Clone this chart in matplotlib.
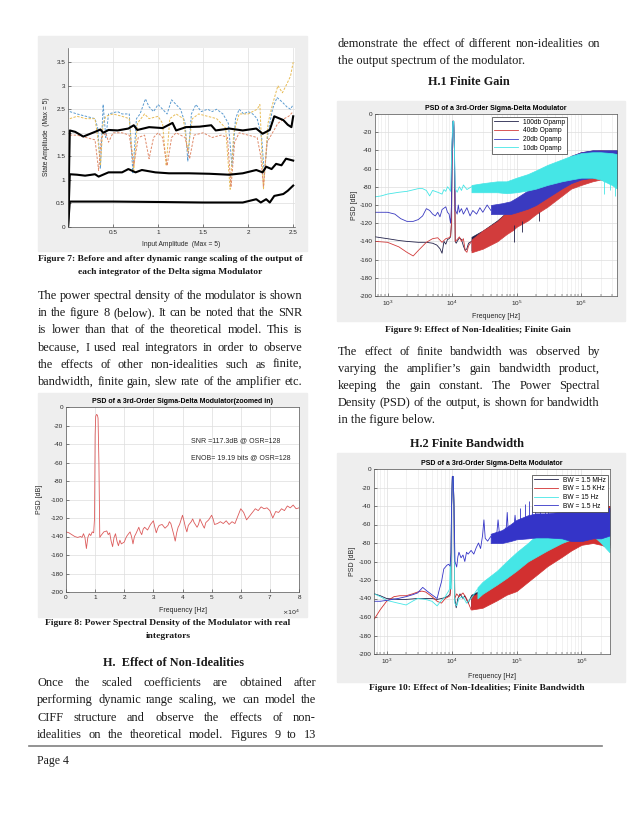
import numpy as np
import matplotlib
matplotlib.use("Agg")
import matplotlib.pyplot as plt
from matplotlib.patches import Rectangle
from matplotlib.lines import Line2D
from matplotlib.ticker import FuncFormatter

# === Page text ===
top_right_lines = ["demonstrate the effect of different non-idealities on",
                   "the output spectrum of the modulator."]
fig7_caption = ["Figure 7: Before and after dynamic range scaling of the output of",
                "each integrator of the Delta sigma Modulator"]
left_par1 = ["The power spectral density of the modulator is shown",
             "in the figure 8 (below). It can be noted that the SNR",
             "is lower than that of the theoretical model. This is",
             "because, I used real integrators in order to observe",
             "the effects of other non-idealities such as finite,",
             "bandwidth, finite gain, slew rate of the amplifier etc."]
fig8_caption = ["Figure 8: Power Spectral Density of the Modulator with real",
                "integrators"]
left_heading = "H.  Effect of Non-Idealities"
left_par2 = ["Once the scaled coefficients are obtained after",
             "performing dynamic range scaling, we can model the",
             "CIFF structure and observe the effects of non-",
             "idealities on the theoretical model. Figures 9 to 13"]
h1_heading = "H.1 Finite Gain"
fig9_caption = "Figure 9: Effect of Non-Idealities; Finite Gain"
right_par = ["The effect of finite bandwidth was observed by",
             "varying the amplifier\u2019s gain bandwidth product,",
             "keeping the gain constant. The Power Spectral",
             "Density (PSD) of the output, is shown for bandwidth",
             "in the figure below."]
h2_heading = "H.2 Finite Bandwidth"
fig10_caption = "Figure 10: Effect of Non-Idealities; Finite Bandwidth"
footer = "Page 4"

# === Figure 7 data: state amplitude vs input amplitude ===
amp_black_top = [(0, 0), (0.02, 2.05), (0.08, 2.02), (0.17, 1.92), (0.3, 2.02), (0.36, 2.07), (0.39, 2.0),
                 (0.45, 2.06), (0.55, 2.05), (0.67, 2.09), (0.73, 2.16), (0.77, 2.06), (0.9, 2.12),
                 (1.05, 2.1), (1.16, 2.21), (1.2, 2.05), (1.31, 2.12), (1.46, 2.13), (1.59, 2.16),
                 (1.64, 2.05), (1.79, 2.09), (1.94, 2.05), (2.09, 2.09), (2.16, 1.98), (2.24, 2.06),
                 (2.29, 2.35), (2.39, 2.27), (2.44, 2.17), (2.48, 2.12), (2.5, 2.35)]
amp_black_mid = [(0, 0), (0.02, 1.12), (0.1, 1.11), (0.19, 1.09), (0.3, 1.12), (0.34, 1.07), (0.45, 1.16),
                 (0.6, 1.16), (0.67, 1.23), (0.75, 1.16), (0.82, 1.21), (0.97, 1.16), (1.12, 1.14),
                 (1.34, 1.14), (1.57, 1.13), (1.79, 1.11), (1.94, 1.14), (2.09, 1.21), (2.16, 1.16),
                 (2.2, 1.28), (2.26, 1.23), (2.31, 1.34), (2.37, 1.31), (2.42, 1.45), (2.5, 1.41)]
amp_black_low = [(0, 0), (0.02, 0.54), (0.5, 0.54), (1.05, 0.53), (1.5, 0.52), (1.94, 0.52), (2.09, 0.59),
                 (2.14, 0.52), (2.2, 0.59), (2.24, 0.52), (2.29, 0.66), (2.39, 0.70), (2.44, 0.77),
                 (2.5, 0.88)]
amp_blue_dash = [(0.02, 2.45), (0.1, 2.4), (0.2, 2.35), (0.3, 2.3), (0.33, 2.1), (0.36, 1.25), (0.39, 2.6),
                 (0.42, 1.9), (0.45, 2.4), (0.55, 2.45), (0.6, 2.4), (0.68, 2.4), (0.72, 1.15), (0.76, 2.3),
                 (0.8, 2.4), (0.86, 2.72), (0.9, 2.55), (0.95, 2.45), (1.0, 2.6), (1.05, 2.5), (1.1, 2.4),
                 (1.15, 2.7), (1.2, 2.6), (1.25, 2.5), (1.3, 2.2), (1.33, 1.4), (1.37, 2.4), (1.42, 2.6),
                 (1.48, 2.45), (1.55, 2.5), (1.6, 2.45), (1.65, 2.5), (1.72, 2.4), (1.78, 2.2), (1.82, 1.3),
                 (1.86, 2.3), (1.9, 2.5), (1.95, 2.4), (2.0, 2.45), (2.05, 2.4), (2.1, 2.3), (2.15, 1.9),
                 (2.18, 1.1), (2.22, 2.0), (2.27, 2.5), (2.32, 2.75), (2.38, 2.65), (2.43, 2.55),
                 (2.47, 2.5), (2.5, 2.6)]
amp_yellow_dash = [(0.02, 2.3), (0.1, 2.35), (0.2, 2.3), (0.3, 2.3), (0.33, 1.9), (0.36, 1.3), (0.39, 2.2),
                   (0.42, 2.35), (0.5, 2.4), (0.6, 2.35), (0.68, 2.3), (0.73, 1.2), (0.77, 2.2), (0.85, 2.4),
                   (0.9, 2.3), (1.0, 2.35), (1.05, 2.2), (1.09, 1.3), (1.13, 2.3), (1.2, 2.4), (1.28, 2.3),
                   (1.33, 1.6), (1.38, 2.3), (1.45, 2.4), (1.55, 2.35), (1.65, 2.3), (1.75, 2.1), (1.8, 0.8),
                   (1.84, 2.0), (1.9, 2.4), (2.0, 2.4), (2.1, 2.5), (2.13, 2.6), (2.17, 0.8), (2.22, 2.2),
                   (2.27, 2.6), (2.33, 3.0), (2.38, 2.85), (2.42, 3.0), (2.47, 3.2), (2.5, 3.5)]
amp_red_dash = [(0.02, 1.95), (0.1, 1.95), (0.2, 1.9), (0.3, 1.85), (0.34, 1.2), (0.37, 1.9), (0.42, 2.0),
                (0.45, 1.8), (0.5, 2.0), (0.6, 2.0), (0.68, 1.95), (0.73, 1.3), (0.78, 1.9), (0.85, 1.95),
                (0.9, 1.45), (0.95, 1.9), (1.0, 2.0), (1.05, 1.9), (1.1, 1.3), (1.15, 1.9), (1.2, 2.0),
                (1.3, 1.9), (1.35, 1.45), (1.4, 1.95), (1.5, 2.0), (1.6, 1.9), (1.7, 1.95), (1.77, 1.9),
                (1.81, 0.85), (1.85, 1.8), (1.9, 2.0), (2.0, 1.95), (2.1, 1.9), (2.14, 1.5), (2.17, 0.85),
                (2.21, 1.8), (2.27, 2.0), (2.33, 2.2), (2.4, 2.3), (2.45, 2.35), (2.5, 2.45)]

# === Figure 8 data: zoomed PSD (Hz, dB) ===
fig8_psd = [(0, -135), (1000, -136), (2000, -138), (3000, -140), (4000, -141), (5000, -140), (5500, -141),
            (6000, -137), (6500, -141), (7000, -153), (7500, -141), (8000, -137), (8500, -139), (9000, -135),
            (9500, -136), (9800, -120), (10000, -30), (10200, -10), (10500, -8), (10800, -9), (11000, -12),
            (11300, -60), (11600, -141), (12000, -139), (12500, -137), (13000, -135), (14000, -134),
            (14500, -138), (15000, -136), (15500, -145), (16000, -151), (16500, -141), (17000, -137),
            (17500, -145), (18000, -150), (18500, -144), (19000, -148), (20000, -146), (20500, -142),
            (21000, -139), (22000, -135), (22500, -140), (23000, -148), (23500, -140), (24000, -137),
            (25000, -130), (25500, -135), (26000, -138), (26500, -132), (27000, -130), (28000, -133),
            (29000, -127), (30000, -123), (30500, -130), (31000, -136), (31500, -131), (32000, -128),
            (33000, -127), (34000, -131), (35000, -128), (35500, -124), (36000, -126), (36500, -132),
            (37000, -138), (37500, -145), (38000, -136), (38500, -130), (39000, -127), (39500, -122),
            (40000, -117), (40500, -123), (41000, -130), (41500, -135), (42000, -128), (43000, -124),
            (43500, -121), (44000, -125), (45000, -130), (45500, -127), (46000, -121), (47000, -128),
            (47500, -131), (48000, -125), (49000, -122), (50000, -117), (50500, -121), (51000, -127),
            (52000, -126), (53000, -124), (54000, -126), (55000, -123), (56000, -127), (57000, -124),
            (58000, -126), (59000, -118), (60000, -110), (61000, -114), (62000, -122), (63000, -118),
            (64000, -114), (65000, -110), (66000, -112), (67000, -108), (68000, -110), (69000, -109),
            (70000, -112), (71000, -120), (72000, -113), (73000, -114), (74000, -110), (75000, -112),
            (76000, -107), (77000, -109), (78000, -106), (79000, -110), (80000, -109)]
snr_text = "SNR =117.3dB @ OSR=128"
enob_text = "ENOB= 19.19 bits @ OSR=128"

# === Figure 9 data: finite gain (low-frequency trace + noise band envelope) ===
gain_labels = ["100db Opamp", "40db Opamp", "20db Opamp", "10db Opamp"]
gain100_line = [(650, -135), (800, -136), (1000, -137), (1500, -139), (2000, -140), (3000, -141), (4000, -141),
                (5000, -142), (5800, -144), (6500, -148), (7000, -153), (7500, -140), (8000, -143), (8500, -138),
                (9000, -137), (9500, -135), (9800, -120), (10000, -40), (10300, -8), (10600, -8), (10900, -40),
                (11200, -140), (11600, -142), (12000, -140), (13000, -136), (14000, -138), (15000, -145),
                (16000, -150), (17000, -148), (18000, -142), (20000, -140)]
gain40_line = [(650, -140), (1000, -141), (1500, -146), (2000, -152), (2500, -156), (3000, -150), (4000, -141),
               (5000, -137), (6000, -136), (7000, -141), (8000, -137), (9000, -136), (9500, -134), (9800, -120),
               (10000, -40), (10300, -8), (10600, -8), (10900, -40), (11200, -140), (12000, -138), (13000, -135),
               (14000, -140), (15000, -137), (16000, -150), (17000, -152), (18000, -145), (20000, -140)]
gain20_line = [(650, -108), (1000, -108), (1300, -110), (1600, -115), (2000, -118), (2500, -118), (3000, -116),
               (3500, -112), (4000, -104), (4500, -106), (5000, -110), (5500, -112), (6000, -108), (6500, -113),
               (7000, -105), (8000, -102), (8500, -108), (9000, -110), (9500, -120), (9800, -100), (10000, -40),
               (10300, -8), (10600, -8), (10900, -40), (11200, -105), (12000, -110), (12500, -100), (13000, -108),
               (14000, -104), (15000, -110), (17000, -103), (19000, -112), (21000, -106), (24000, -110),
               (27000, -103), (30000, -108), (35000, -100), (40000, -106)]
gain10_line = [(650, -91), (800, -90), (1000, -88), (1500, -86), (2000, -85), (3000, -82), (3500, -82),
               (4000, -84), (4500, -90), (5000, -84), (6000, -86), (7000, -88), (7500, -83), (8000, -85),
               (8500, -80), (9000, -82), (9500, -85), (10000, -30), (10300, -8), (10600, -8), (10900, -40),
               (11200, -82), (12000, -86), (13000, -80), (14000, -84), (15000, -78), (17000, -83), (20000, -80)]
gain_band_f = [2e4, 3e4, 5e4, 7e4, 9e4, 1e5, 1.5e5, 2e5, 3e5, 5e5, 7e5, 1e6, 1.5e6, 2e6, 3e6, 3.6e6]
gain100_hi = [-135, -128, -117, -108, -101, -97, -88, -78, -68, -55, -47, -42, -40, -40, -40, -40]
gain100_lo = [-150, -145, -138, -130, -124, -122, -115, -108, -100, -88, -80, -75, -72, -70, -72, -75]
gain40_hi = [-138, -128, -118, -108, -102, -97, -86, -76, -66, -54, -46, -42, -41, -40, -41, -41]
gain40_lo = [-152, -148, -140, -132, -127, -124, -117, -110, -102, -90, -82, -78, -74, -72, -75, -78]
gain20_band_f = [4e4, 6e4, 8e4, 1e5, 1.5e5, 2e5, 3e5, 5e5, 7e5, 1e6, 1.5e6, 2e6, 3e6, 3.6e6]
gain20_hi = [-100, -98, -96, -92, -84, -75, -65, -54, -46, -42, -40, -40, -40, -40]
gain20_lo = [-110, -110, -110, -108, -104, -100, -92, -82, -76, -72, -70, -70, -72, -76]
gain10_band_f = [2e4, 3e4, 5e4, 7e4, 1e5, 1.5e5, 2e5, 3e5, 5e5, 7e5, 1e6, 1.5e6, 2e6, 3e6, 3.6e6]
gain10_hi = [-78, -76, -74, -74, -70, -66, -62, -56, -50, -46, -43, -42, -42, -43, -44]
gain10_lo = [-86, -86, -86, -87, -86, -84, -82, -78, -74, -72, -70, -70, -72, -78, -82]
gain_spike_f = [9e4, 1.2e5, 2.2e5]
gain_spike_top = [-122, -118, -108]
gain_spike_p = [-141, -130, -118]
gain10_spike_f = [2.3e6, 2.8e6, 3.4e6]
gain10_spike_p = [-88, -84, -90]

# === Figure 10 data: finite bandwidth ===
bw_labels = ["BW = 1.5 MHz", "BW = 1.5 KHz", "BW = 15 Hz", "BW = 1.5 Hz"]
bw1M_line = [(650, -135), (800, -137), (1000, -140), (1500, -141), (2000, -141), (3000, -140), (4000, -140),
             (5000, -140), (6000, -141), (7000, -140), (8000, -139), (9000, -137), (9500, -135), (9800, -120),
             (10000, -40), (10300, -8), (10600, -8), (10900, -40), (11200, -140), (11800, -150), (12500, -140),
             (13500, -135), (15000, -140), (16000, -137), (18000, -145), (20000, -138)]
bw1K_line = [(650, -162), (800, -152), (1000, -143), (1300, -138), (1600, -137), (2000, -137), (2500, -135),
             (3000, -133), (3500, -132), (4000, -133), (5000, -138), (6000, -143), (7000, -145), (8000, -140),
             (9000, -138), (9500, -137), (9800, -120), (10000, -40), (10300, -8), (10600, -8), (10900, -40),
             (11200, -140), (12000, -135), (13000, -138), (15000, -134), (17000, -140), (20000, -152)]
bw15_line = [(650, -135), (800, -138), (1000, -142), (1500, -145), (2000, -147), (2500, -143), (3000, -140),
             (4000, -141), (5000, -143), (6000, -148), (7000, -142), (8000, -138), (9000, -132), (9300, -130),
             (9600, -100), (9800, -130), (10000, -40), (10300, -8), (10600, -8), (10900, -40), (11200, -145),
             (12000, -148), (13000, -140), (15000, -138), (17000, -145), (20000, -140), (25000, -130)]
bw1_line = [(650, -143), (800, -143), (1000, -142), (1500, -140), (2000, -138), (2500, -136), (3000, -134),
            (3600, -128), (4200, -132), (5000, -136), (6000, -140), (6500, -130), (7000, -122), (7600, -108),
            (8500, -104), (9000, -103), (9500, -105), (9800, -90), (10000, -40), (10300, -8), (10600, -8),
            (10900, -40), (11300, -100), (12000, -106), (12500, -95), (13000, -90), (14000, -96), (15000, -93),
            (16000, -100), (17000, -90), (18000, -92), (20000, -88), (22000, -92), (24000, -85), (26000, -80),
            (28000, -86), (30000, -72), (31500, -55), (33000, -75), (36000, -78), (40000, -73), (45000, -76),
            (50000, -68), (52000, -55), (55000, -72), (60000, -75), (65000, -70), (70000, -62), (72000, -47),
            (75000, -70), (80000, -72), (90000, -68), (95000, -50), (100000, -68)]
bw_band_f = [2e4, 3e4, 5e4, 7e4, 1e5, 1.5e5, 2e5, 3e5, 5e5, 7e5, 1e6, 1.5e6, 2e6, 2.7e6]
bw1M_hi = [-136, -130, -120, -112, -102, -90, -80, -70, -58, -50, -46, -42, -40, -40]
bw1M_lo = [-150, -145, -138, -130, -125, -115, -108, -98, -88, -82, -78, -78, -80, -82]
bw1K_hi = [-138, -132, -122, -114, -104, -92, -82, -72, -60, -52, -46, -42, -40, -40]
bw1K_lo = [-152, -150, -142, -136, -132, -122, -115, -105, -95, -88, -82, -80, -82, -85]
bw15_band_f = [2.5e4, 3e4, 5e4, 7e4, 1e5, 1.5e5, 2e5, 3e5, 5e5, 7e5, 1e6, 1.5e6, 2e6, 2.7e6]
bw15_hi = [-128, -122, -110, -100, -90, -80, -72, -64, -56, -52, -50, -48, -46, -46]
bw15_lo = [-140, -135, -125, -118, -110, -100, -95, -88, -80, -76, -72, -72, -80, -90]
bw1_band_f = [4e4, 6e4, 8e4, 1e5, 1.5e5, 2e5, 3e5, 5e5, 7e5, 1e6, 1.5e6, 2e6, 2.7e6]
bw1_hi = [-70, -66, -60, -55, -50, -48, -48, -46, -45, -44, -42, -42, -42]
bw1_lo = [-80, -80, -78, -76, -75, -74, -74, -75, -78, -78, -75, -75, -72]
bw1_spike_f = [1.15e5, 1.35e5, 1.55e5, 1.75e5, 1.95e5, 2.3e5, 2.7e5, 3.1e5]
bw1_spike_p = [-42, -38, -35, -40, -38, -40, -42, -45]

# === Page setup ===
W, H = 638, 826
SERIF = "Liberation Serif"
SANS = "Liberation Sans"
INK = "#1a1a1a"
AX_INK = "#262626"
plt.rcParams["font.family"] = SANS
plt.rcParams["axes.unicode_minus"] = False
fig = plt.figure(figsize=(W / 100, H / 100), dpi=100, facecolor="white")
renderer = fig.canvas.get_renderer()


def fx(x):
    return x / W


def fy(y):
    return 1 - y / H


def px_axes(x0, y0, x1, y1):
    return fig.add_axes([fx(x0), fy(y1), (x1 - x0) / W, (y1 - y0) / H])


def gray_box(x0, y0, x1, y1):
    fig.patches.append(Rectangle((fx(x0), fy(y1)), (x1 - x0) / W, (y1 - y0) / H,
                                 transform=fig.transFigure, color="#eeeeee", zorder=-5))


def justified(lines, x0, x1, y0, dy, size, last_full=False):
    for i, line in enumerate(lines):
        y = y0 + i * dy
        if i == len(lines) - 1 and not last_full:
            fig.text(fx(x0), fy(y), line, fontsize=size, family=SERIF, color=INK, va="center")
            continue
        words = line.split()
        ts = [fig.text(0, fy(y), w, fontsize=size, family=SERIF, color=INK, va="center") for w in words]
        ws = [t.get_window_extent(renderer).width for t in ts]
        gap = max((x1 - x0 - sum(ws)) / (len(words) - 1), 1.5)
        x = x0
        for t, w in zip(ts, ws):
            t.set_x(fx(x))
            x += w + gap


def centered(s, x, y, size, bold=True):
    fig.text(fx(x), fy(y), s, fontsize=size, family=SERIF, color=INK, ha="center", va="center",
             fontweight="bold" if bold else "normal")


def style_axes(ax, box=True):
    ax.set_facecolor("white")
    ax.tick_params(direction="in", length=2, width=0.4, labelsize=4.6, colors=AX_INK, pad=2)
    ax.tick_params(which="minor", direction="in", length=1.2, width=0.3)
    for name, sp in ax.spines.items():
        sp.set_linewidth(0.5)
        sp.set_color("#555555")
        if not box and name in ("top", "right"):
            sp.set_visible(False)
    ax.grid(True, which="major", color="#dddddd", lw=0.5)
    ax.set_axisbelow(True)


def unzip(pairs):
    a = np.array(pairs, dtype=float)
    return a[:, 0], a[:, 1]


# === Gray figure backgrounds (MATLAB style) ===
gray_box(38, 36, 307, 251)
gray_box(38, 393, 307, 617)
gray_box(337, 101, 625, 321)
gray_box(337, 453, 625, 682)

# === Figure 7 ===
ax7 = px_axes(68, 48, 295, 227)
style_axes(ax7, box=False)
for pairs, col in [(amp_blue_dash, "#5b9bd0"), (amp_yellow_dash, "#e8bc55"), (amp_red_dash, "#e08a6a")]:
    x, y = unzip(pairs)
    ax7.plot(x, y, color=col, lw=0.7, ls=(0, (2.5, 1.5)))
for pairs in [amp_black_top, amp_black_mid, amp_black_low]:
    x, y = unzip(pairs)
    ax7.plot(x, y, color="black", lw=1.5)
ax7.set_xlim(0, 2.52)
ax7.set_ylim(0, 3.8)
ax7.set_xticks([0.5, 1, 1.5, 2, 2.5])
ax7.set_xticklabels(["0.5", "1", "1.5", "2", "2.5"])
ax7.set_yticks(np.arange(0, 3.6, 0.5))
ax7.set_yticklabels(["0", "0.5", "1", "1.5", "2", "2.5", "3", "3.5"])
fig.text(fx(181), fy(245), "Input Amplitude  (Max = 5)", fontsize=4.8, color=AX_INK, ha="center", va="center")
fig.text(fx(47), fy(137), "State Amplitude  (Max = 5)", fontsize=4.8, color=AX_INK, ha="center", va="center",
         rotation=90)

# === Figure 8 ===
ax8 = px_axes(66, 407, 299, 592)
style_axes(ax8)
f8, p8 = unzip(fig8_psd)
ax8.plot(f8, p8, color="#dc5a5a", lw=0.6)
ax8.set_xlim(0, 8e4)
ax8.set_ylim(-200, 0)
ax8.set_xticks(np.arange(0, 8.1e4, 1e4))
ax8.xaxis.set_major_formatter(FuncFormatter(lambda v, _: f"{v / 1e4:g}"))
ax8.set_yticks(np.arange(-200, 1, 20))
ax8.text(0.5, 1.012, "PSD of a 3rd-Order Sigma-Delta Modulator(zoomed in)", transform=ax8.transAxes,
         ha="center", va="bottom", fontsize=5, fontweight="bold", color="black")
ax8.text(4.3e4, -36, snr_text, fontsize=5, color=AX_INK, va="center")
ax8.text(4.3e4, -55, enob_text, fontsize=5, color=AX_INK, va="center")
fig.text(fx(183), fy(610), "Frequency [Hz]", fontsize=5, color=AX_INK, ha="center", va="center")
fig.text(fx(40), fy(499), "PSD [dB]", fontsize=5, color=AX_INK, ha="center", va="center", rotation=90)
fig.text(fx(291), fy(612), r"$\times10^4$", fontsize=4.6, color=AX_INK, ha="center", va="center")


def psd_axes(ax, xmax):
    style_axes(ax)
    ax.set_xscale("log")
    ax.set_xlim(640, xmax)
    ax.set_ylim(-200, 0)
    ax.set_yticks(np.arange(-200, 1, 20))
    ax.set_xticks([1e3, 1e4, 1e5, 1e6])
    ax.grid(True, which="minor", axis="x", color="#e6e6e6", lw=0.4)
    ax.text(0.5, 1.012, "PSD of a 3rd-Order Sigma-Delta Modulator", transform=ax.transAxes,
            ha="center", va="bottom", fontsize=5, fontweight="bold", color="black")


def draw_series(ax, line, bf, lo, hi, col):
    f, p = unzip(line)
    h, = ax.plot(f, p, color=col, lw=0.6)
    ax.fill_between(bf, lo, hi, color=col, lw=0.5)
    return h


# === Figure 9 ===
ax9 = px_axes(375, 114, 617, 296)
psd_axes(ax9, 3.6e6)
gain_series = [(gain100_line, gain_band_f, gain100_lo, gain100_hi, "#22224a"),
               (gain40_line, gain_band_f, gain40_lo, gain40_hi, "#d23c3c"),
               (gain20_line, gain20_band_f, gain20_lo, gain20_hi, "#3a3ac0"),
               (gain10_line, gain10_band_f, gain10_lo, gain10_hi, "#45e6e6")]
handles9 = []
for i, s in enumerate(gain_series):
    handles9.append(draw_series(ax9, *s))
    if i == 0:
        ax9.vlines(gain_spike_f, gain_spike_top, gain_spike_p, color=s[4], lw=0.6)
ax9.vlines(gain10_spike_f, -74, gain10_spike_p, color="#45e6e6", lw=0.6)
leg9 = ax9.legend(handles9, gain_labels, loc="upper left", bbox_to_anchor=(0.483, 0.985), fontsize=4.8,
                  frameon=True, fancybox=False, edgecolor="#333333", framealpha=1, handlelength=3.6,
                  borderpad=0.3, labelspacing=0.25, handletextpad=0.8, borderaxespad=0)
leg9.get_frame().set_linewidth(0.5)
fig.text(fx(496), fy(317), "Frequency [Hz]", fontsize=5, color=AX_INK, ha="center", va="center")
fig.text(fx(354), fy(205), "PSD [dB]", fontsize=5, color=AX_INK, ha="center", va="center", rotation=90)

# === Figure 10 ===
ax10 = px_axes(374, 469, 610, 654)
psd_axes(ax10, 2.75e6)
bw_series = [(bw1M_line, bw_band_f, bw1M_lo, bw1M_hi, "#22224a"),
             (bw1K_line, bw_band_f, bw1K_lo, bw1K_hi, "#d23030"),
             (bw15_line, bw15_band_f, bw15_lo, bw15_hi, "#45e6e6"),
             (bw1_line, bw1_band_f, bw1_lo, bw1_hi, "#3434c8")]
handles10 = [draw_series(ax10, *s) for s in bw_series]
ax10.vlines(bw1_spike_f, -70, bw1_spike_p, color="#3434c8", lw=0.6)
leg10 = ax10.legend(handles10, bw_labels, loc="upper right", bbox_to_anchor=(0.993, 0.97), fontsize=4.8,
                    frameon=True, fancybox=False, edgecolor="#333333", framealpha=1, handlelength=3.6,
                    borderpad=0.3, labelspacing=0.25, handletextpad=0.8, borderaxespad=0)
leg10.get_frame().set_linewidth(0.5)
fig.text(fx(492), fy(677), "Frequency [Hz]", fontsize=5, color=AX_INK, ha="center", va="center")
fig.text(fx(352), fy(561), "PSD [dB]", fontsize=5, color=AX_INK, ha="center", va="center", rotation=90)

# === Page text ===
BODY = 8.9
CAP = 6.8
justified(top_right_lines, 338, 600, 44, 17, BODY)
centered(h1_heading, 469, 82, 8.8)
centered(fig9_caption, 478, 330, CAP)
justified(right_par, 338, 600, 352, 17, BODY)
centered(h2_heading, 467, 444, 8.8)
centered(fig10_caption, 477, 688, CAP)
centered(fig7_caption[0], 170, 259, CAP)
centered(fig7_caption[1], 170, 272, CAP)
justified(left_par1, 38, 302, 296, 17.2, BODY, last_full=True)
centered(fig8_caption[0], 168, 623, CAP)
centered(fig8_caption[1], 168, 636, CAP)
centered(left_heading, 173, 663, 8.8)
justified(left_par2, 37, 316, 683, 17.3, BODY, last_full=True)
fig.add_artist(Line2D([fx(29), fx(602)], [fy(746), fy(746)], color="#808080", lw=1.2))
fig.text(fx(37), fy(761), footer, fontsize=8.5, family=SERIF, color=INK, va="center")

fig.savefig("out.png", dpi=100, facecolor="white")
